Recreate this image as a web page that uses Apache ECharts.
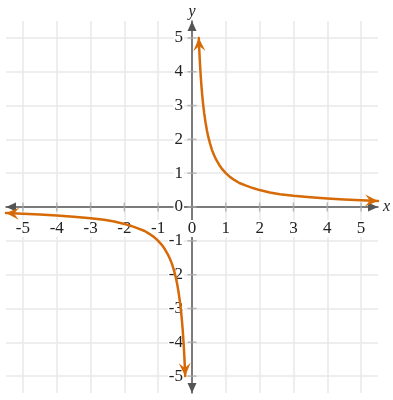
<!DOCTYPE html>
<html><head><meta charset="utf-8">
<script src="https://cdn.jsdelivr.net/npm/echarts@6/dist/echarts.min.js"></script>
<style>html,body{margin:0;padding:0;background:#fff}#c{width:393px;height:400px}</style>
</head><body><div id="c"></div>
<script>
// Curve y = 1/x
const xRight = [0.2, 0.21, 0.22, 0.23, 0.24, 0.25, 0.27, 0.29, 0.31, 0.33, 0.36, 0.4, 0.44, 0.48, 0.53, 0.59, 0.65, 0.72, 0.8, 0.9, 1, 1.12, 1.25, 1.4, 1.6, 1.8, 2, 2.3, 2.6, 3, 3.5, 4, 4.5, 5, 5.5];
const yRight = [5, 4.76, 4.55, 4.35, 4.17, 4, 3.7, 3.45, 3.23, 3.03, 2.78, 2.5, 2.27, 2.08, 1.89, 1.69, 1.54, 1.39, 1.25, 1.11, 1, 0.89, 0.8, 0.71, 0.63, 0.56, 0.5, 0.43, 0.38, 0.33, 0.29, 0.25, 0.22, 0.2, 0.18];
const xLeft = [-5.5, -5, -4.5, -4, -3.5, -3, -2.6, -2.3, -2, -1.8, -1.6, -1.4, -1.25, -1.12, -1, -0.9, -0.8, -0.72, -0.65, -0.59, -0.53, -0.48, -0.44, -0.4, -0.36, -0.33, -0.31, -0.29, -0.27, -0.25, -0.24, -0.23, -0.22, -0.21, -0.2];
const yLeft = [-0.18, -0.2, -0.22, -0.25, -0.29, -0.33, -0.38, -0.43, -0.5, -0.56, -0.63, -0.71, -0.8, -0.89, -1, -1.11, -1.25, -1.39, -1.54, -1.69, -1.89, -2.08, -2.27, -2.5, -2.78, -3.03, -3.23, -3.45, -3.7, -4, -4.17, -4.35, -4.55, -4.76, -5];
const tickValues = [-5, -4, -3, -2, -1, 0, 1, 2, 3, 4, 5];
const axisMin = -5.5, axisMax = 5.5, halfStep = 0.5;

const ORANGE = '#d66a06';
const FONT = 'Liberation Serif';
const GRID = { left: 6, top: 21, width: 372, height: 372 };
// distance from the grid's left/bottom edge to the zero line
const zeroFromLeft = GRID.width * (0 - axisMin) / (axisMax - axisMin);
const zeroFromBottom = GRID.height * (0 - axisMin) / (axisMax - axisMin);
// arrowhead whose tip sits at the centre of its bounding box (lone moveTo extends the box)
const ARROW = 'path://M0,13 L6,26 L0,21 L-6,26 Z M0,0';

function pts(xs, ys) { return xs.map((x, i) => [x, ys[i]]); }
function withArrows(data, startRot, endRot) {
  const d = data.map(p => p);
  d[0] = { value: data[0], symbol: ARROW, symbolRotate: startRot };
  d[d.length - 1] = { value: data[d.length - 1], symbol: ARROW, symbolRotate: endRot };
  return d;
}
const labelFmt = v => (Math.abs(v - Math.round(v)) < 1e-9 ? String(Math.round(v)) : '');

function axis(name, isX) {
  return {
    type: 'value', min: axisMin, max: axisMax, interval: halfStep,
    position: isX ? 'bottom' : 'left',
    offset: -(isX ? zeroFromBottom : zeroFromLeft),
    name: name, nameLocation: 'end', nameGap: isX ? 5 : 1,
    nameTextStyle: { fontFamily: FONT, fontStyle: 'italic', fontSize: 16, color: '#222' },
    axisLine: { show: true, onZero: false, symbol: ['triangle', 'triangle'], symbolSize: [9, 10],
      symbolOffset: [5, -5], lineStyle: { color: '#555', width: 1.5 } },
    axisTick: { show: false },
    axisLabel: { show: true, formatter: labelFmt, fontFamily: FONT, fontSize: 17, color: '#222',
      margin: isX ? 13 : 8, backgroundColor: '#fff', padding: [0, 1],
      showMinLabel: false, showMaxLabel: false },
    splitLine: { show: true, showMinLine: false, showMaxLine: false,
      lineStyle: { color: ['#e8e8e8', 'rgba(0,0,0,0)'], width: 1.5 } }
  };
}

const chart = echarts.init(document.getElementById('c'), null, { renderer: 'canvas' });
chart.setOption({
  animation: false,
  backgroundColor: '#fff',
  grid: Object.assign({ containLabel: false, outerBoundsMode: 'auto',
    outerBounds: { left: -200, top: -200, right: -200, bottom: -200 } }, GRID),
  xAxis: axis('x', true),
  yAxis: axis('y', false),
  series: [
    { // x-axis tick marks
      type: 'scatter', symbol: 'rect', symbolSize: [1.5, 9], silent: true, z: 1,
      itemStyle: { color: '#aaa' },
      data: tickValues.filter(v => v !== 0).map(v => [v, 0])
    },
    { // y-axis tick marks
      type: 'scatter', symbol: 'rect', symbolSize: [9, 1.5], silent: true, z: 1,
      itemStyle: { color: '#aaa' },
      data: tickValues.map(v => [0, v])
    },
    {
      type: 'line', smooth: false, symbol: 'none', showSymbol: true, symbolSize: [12, 26],
      lineStyle: { color: ORANGE, width: 2.5, cap: 'round', join: 'round' }, itemStyle: { color: ORANGE }, z: 5,
      data: withArrows(pts(xRight, yRight), 2.5, -92)
    },
    {
      type: 'line', smooth: false, symbol: 'none', showSymbol: true, symbolSize: [12, 26],
      lineStyle: { color: ORANGE, width: 2.5, cap: 'round', join: 'round' }, itemStyle: { color: ORANGE }, z: 5,
      data: withArrows(pts(xLeft, yLeft), 87.5, 182.5)
    }
  ]
});
</script></body></html>
